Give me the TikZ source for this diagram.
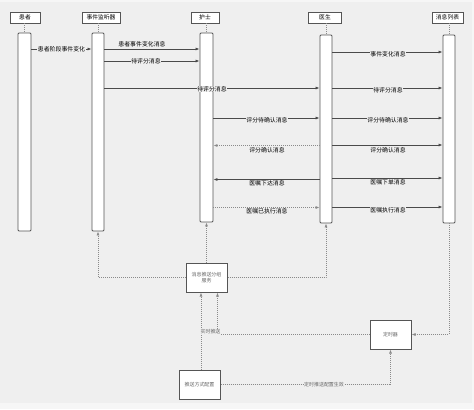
\documentclass[tikz,border=0pt]{standalone}
\usepackage{fontspec}
\newfontfamily\cjk{Noto Sans CJK SC}
\usetikzlibrary{arrows.meta}
\definecolor{bgc}{HTML}{EFEFEF}
\definecolor{bgl}{HTML}{F6F6F6}
\definecolor{edge}{HTML}{555555}
\definecolor{lin}{HTML}{4A4A4A}
\definecolor{dotc}{HTML}{8A8A8A}
\tikzset{
  hdr/.style={draw=edge,line width=0.9bp,fill=white,inner sep=0pt,font=\cjk\fontsize{5.8}{6.5}\selectfont,text=black},
  bar/.style={draw=edge,line width=0.8bp,fill=white,rounded corners=1bp,inner sep=0pt},
  life/.style={draw=dotc,dash pattern=on 1bp off 1bp,line width=0.6bp},
  msg/.style={draw=lin,line width=0.75bp,-{Latex[length=4bp,width=3bp]}},
  dmsg/.style={draw=dotc,line width=0.75bp,dash pattern=on 1bp off 1bp,-{Latex[length=4bp,width=3bp]}},
  lbl/.style={fill=bgc,inner sep=0.6bp,font=\cjk\fontsize{5.9}{6.5}\selectfont,text=black},
  box/.style={draw=edge,line width=1bp,fill=white,inner sep=0pt,minimum width=41bp,minimum height=29bp,font=\cjk\fontsize{5}{6}\selectfont,text=black!60,align=center},
  slbl/.style={fill=bgc,inner sep=0.5bp,font=\cjk\fontsize{5}{6}\selectfont,text=black!60},
  dline/.style={draw=dotc,line width=0.75bp,dash pattern=on 1bp off 1bp},
  darr/.style={dline,-{Latex[length=4bp,width=3bp]}}
}
\begin{document}
\begin{tikzpicture}[x=1bp,y=-1bp]
\fill[bgl] (0,0) rectangle (474,409);
\fill[bgc] (0,2) rectangle (472,403);
\useasboundingbox (0,0) rectangle (474,409);

% headers
\node[hdr,minimum width=30bp,minimum height=11bp] (h1) at (25,17.5) {患者};
\node[hdr,minimum width=38bp,minimum height=11bp] (h2) at (101,17.5) {事件监听器};
\node[hdr,minimum width=28bp,minimum height=11bp] (h3) at (205,17.5) {护士};
\node[hdr,minimum width=33bp,minimum height=11bp] (h4) at (325,17.5) {医生};
\node[hdr,minimum width=31bp,minimum height=11bp] (h5) at (447.5,17.5) {消息列表};

% activation bars
\node[bar,minimum width=13bp,minimum height=198bp] (b1) at (24.5,132) {};
\node[bar,minimum width=12bp,minimum height=198bp] (b2) at (98,132) {};
\node[bar,minimum width=13bp,minimum height=189bp] (b3) at (206.5,127.5) {};
\node[bar,minimum width=12bp,minimum height=188bp] (b4) at (326,129) {};
\node[bar,minimum width=12bp,minimum height=188bp] (b5) at (449,129) {};

% lifelines
\draw[life] (h1.south -| b1.north) -- (b1.north);
\draw[life] (h2.south -| b2.north) -- (b2.north);
\draw[life] (h3.south -| b3.north) -- (b3.north);
\draw[life] (h4.south -| b4.north) -- (b4.north);
\draw[life] (h5.south -| b5.north) -- (b5.north);

% messages
\draw[msg] (b1.east |- 0,49) -- (b2.west |- 0,49);
\node[lbl] (m1) at (61.5,49) {患者阶段事件变化};
\draw[msg] (b2.east |- 0,49) -- (b3.west |- 0,49);
\node[lbl] (m2) at (142,44) {患者事件变化消息};
\draw[msg] (b2.east |- 0,61) -- (b3.west |- 0,61);
\node[lbl] (m3) at (146,61) {待评分消息};
\draw[msg] (b2.east |- 0,88) -- (b4.west |- 0,88);
\node[lbl] (m4) at (212,89) {待评分消息};

\draw[msg] (b4.east |- 0,52) -- (b5.west |- 0,52);
\node[lbl] (m5) at (388,54.5) {事件变化消息};
\draw[msg] (b4.east |- 0,88) -- (b5.west |- 0,88);
\node[lbl] (m6) at (388,90.5) {待评分消息};

\draw[msg] (b3.east |- 0,118) -- (b4.west |- 0,118);
\node[lbl] (m7) at (267,120.5) {评分待确认消息};
\draw[msg] (b4.east |- 0,118) -- (b5.west |- 0,118);
\node[lbl] (m8) at (388,120.5) {评分待确认消息};

\draw[dmsg] (b4.west |- 0,145.5) -- (b3.east |- 0,145.5);
\node[lbl] (m9) at (267,150) {评分确认消息};
\draw[msg] (b4.east |- 0,145) -- (b5.west |- 0,145);
\node[lbl] (m10) at (388,150) {评分确认消息};

\draw[msg] (b4.west |- 0,179.5) -- (b3.east |- 0,179.5);
\node[lbl] (m11) at (267,183) {医嘱下达消息};
\draw[msg] (b4.east |- 0,178) -- (b5.west |- 0,178);
\node[lbl] (m12) at (388,182) {医嘱下单消息};

\draw[dmsg] (b3.east |- 0,207.5) -- (b4.west |- 0,207.5);
\node[lbl] (m13) at (267,211) {医嘱已执行消息};
\draw[msg] (b4.east |- 0,207) -- (b5.west |- 0,207);
\node[lbl] (m14) at (388,210.5) {医嘱执行消息};

% bottom part
\node[box] (svc) at (206.5,277.5) {消息推送分组\\服务};
\node[box] (timer) at (390.5,334.5) {定时器};
\node[box] (cfg) at (199.5,384.5) {推送方式配置};

\draw[darr] (svc.west) -| (b2.south);
\draw[darr] (svc.north) -- (b3.south);
\draw[darr] (svc.east) -| (b4.south);
\draw[darr] (b5.south) |- (timer.east);
\draw[darr] (timer.west) -| ([xshift=-10bp]svc.south east);
\draw[darr] ([xshift=1.5bp]cfg.north) -- ([xshift=1.5bp]cfg.north |- svc.south);
\node[slbl] (l1) at (210.5,332) {实时推送};
\draw[darr] (cfg.east) -| (timer.south);
\node[slbl] (l2) at (324,385) {定时推送配置生效};
\end{tikzpicture}
\end{document}
